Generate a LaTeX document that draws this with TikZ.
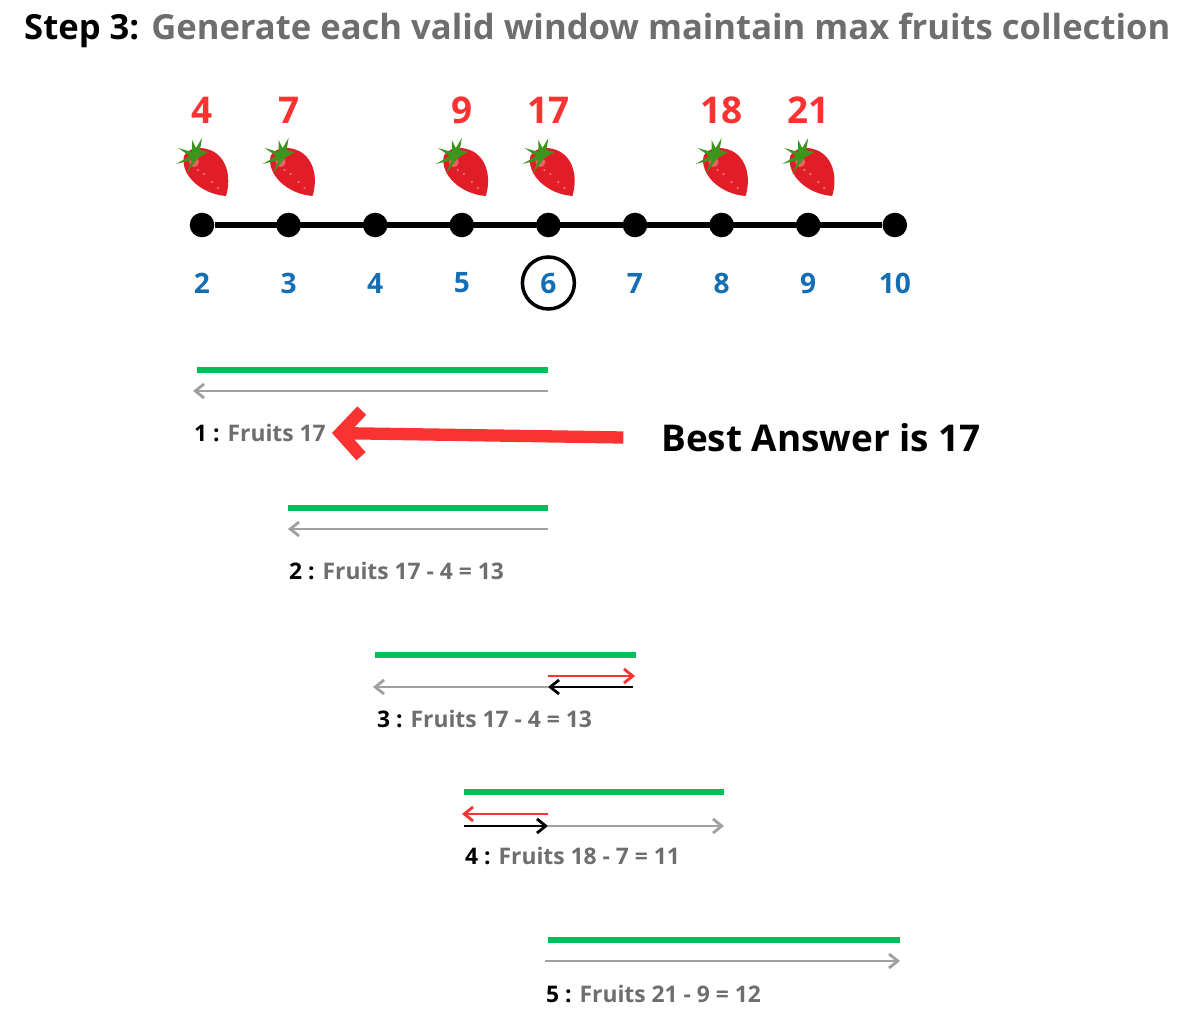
\documentclass[tikz,border=0pt]{standalone}
\usepackage{fontspec}
\setmainfont{Open Sans}
\usetikzlibrary{arrows.meta}
\definecolor{numblue}{RGB}{20 110 180}
\definecolor{fruitred}{RGB}{250 50 50}
\definecolor{bargreen}{RGB}{0 190 90}
\definecolor{txtgray}{RGB}{110 110 110}
\definecolor{arrgray}{RGB}{160 160 160}
\definecolor{leaf}{RGB}{60 150 30}
\definecolor{berryred}{RGB}{225 30 40}
\begin{document}
\begin{tikzpicture}[x=0.02cm, y=-0.02cm, font=\bfseries,
	window/.style={bargreen, line width=3.2pt},
	walk/.style={line width=1.6pt, -{Straight Barb[length=5pt,width=8pt]}},
	label/.style={anchor=west, font=\fontsize{13}{15}\selectfont\bfseries, text=txtgray},
	berry/.pic={
		\fill[berryred] (-20,-14) .. controls (-24,4) and (-4,24) .. (22,26)
			.. controls (28,6) and (22,-14) .. (6,-20) .. controls (-4,-24) and (-16,-22) .. (-20,-14);
		\fill[white, opacity=.3] (-10,-8) circle (5);
		\foreach \a/\b in {0/4, 8/12, 14/18, -6/0} \fill[white, opacity=.35] (\a,\b) circle (1.3);
		\fill[leaf] (-12,-18) -- (-26,-22) -- (-14,-14) -- (-28,-6) -- (-12,-10) -- (-18,4)
			-- (-6,-12) -- (4,-18) -- (-4,-20) -- (-2,-32) -- (-8,-22) -- (-12,-30) -- cycle;
	}]

	\useasboundingbox (0,0) rectangle (1200,1033);

	% title
	\node[anchor=west, font=\fontsize{19.7}{24}\selectfont\bfseries] (title) at (18,30)
		{Step 3: \textcolor{txtgray}{Generate each valid window maintain max fruits collection}};

	% number line
	\foreach \n [count=\i from 0] in {2,...,10} {
		\node[circle, fill=black, inner sep=0pt, minimum size=14pt] (p\n) at (202+86.6*\i, 225) {};
		\node[text=numblue, font=\fontsize{16}{18}\selectfont\bfseries] (n\n) at (202+86.6*\i, 283) {\n};
	}
	\draw[line width=3pt] (p2) -- (p10);
	\draw[line width=2pt] (n6) circle (26);

	% fruits
	\foreach \p/\f in {2/4, 3/7, 5/9, 6/17, 8/18, 9/21} {
		\path (p\p) ++(2,-55) pic {berry};
		\path (p\p) ++(0,-115) node[text=fruitred, font=\fontsize{21}{24}\selectfont\bfseries] (f\p) {\f};
	}

	% window 1
	\draw[window] (197,370) -- (548,370);
	\draw[walk, arrgray] (548,391) -- (193,391);
	\node[label] (w1) at (188,433) {\textcolor{black}{1 :} Fruits 17};
	\node[anchor=west, font=\fontsize{21}{26}\selectfont\bfseries] (best) at (655,438) {Best Answer is 17};
	\draw[fruitred, line width=7pt, shorten <=18pt, -{Straight Barb[length=12pt,width=26pt]}] (best.west) -- (w1.east);

	% window 2
	\draw[window] (288,508) -- (548,508);
	\draw[walk, arrgray] (548,529) -- (288,529);
	\node[label] (w2) at (283,571) {\textcolor{black}{2 :} Fruits 17 - 4 = 13};

	% window 3
	\draw[window] (375,655) -- (636,655);
	\draw[walk, fruitred] (548,676) -- (635,676);
	\draw[walk, arrgray] (548,687) -- (373,687);
	\draw[walk, black] (633,687) -- (548,687);
	\node[label] (w3) at (371,719) {\textcolor{black}{3 :} Fruits 17 - 4 = 13};

	% window 4
	\draw[window] (464,792) -- (724,792);
	\draw[walk, fruitred] (548,814) -- (462,814);
	\draw[walk, arrgray] (548,826) -- (724,826);
	\draw[walk, black] (464,826) -- (548,826);
	\node[label] (w4) at (459,856) {\textcolor{black}{4 :} Fruits 18 - 7 = 11};

	% window 5
	\draw[window] (548,940) -- (900,940);
	\draw[walk, arrgray] (545,961) -- (900,961);
	\node[label] (w5) at (540,994) {\textcolor{black}{5 :} Fruits 21 - 9 = 12};
\end{tikzpicture}
\end{document}
